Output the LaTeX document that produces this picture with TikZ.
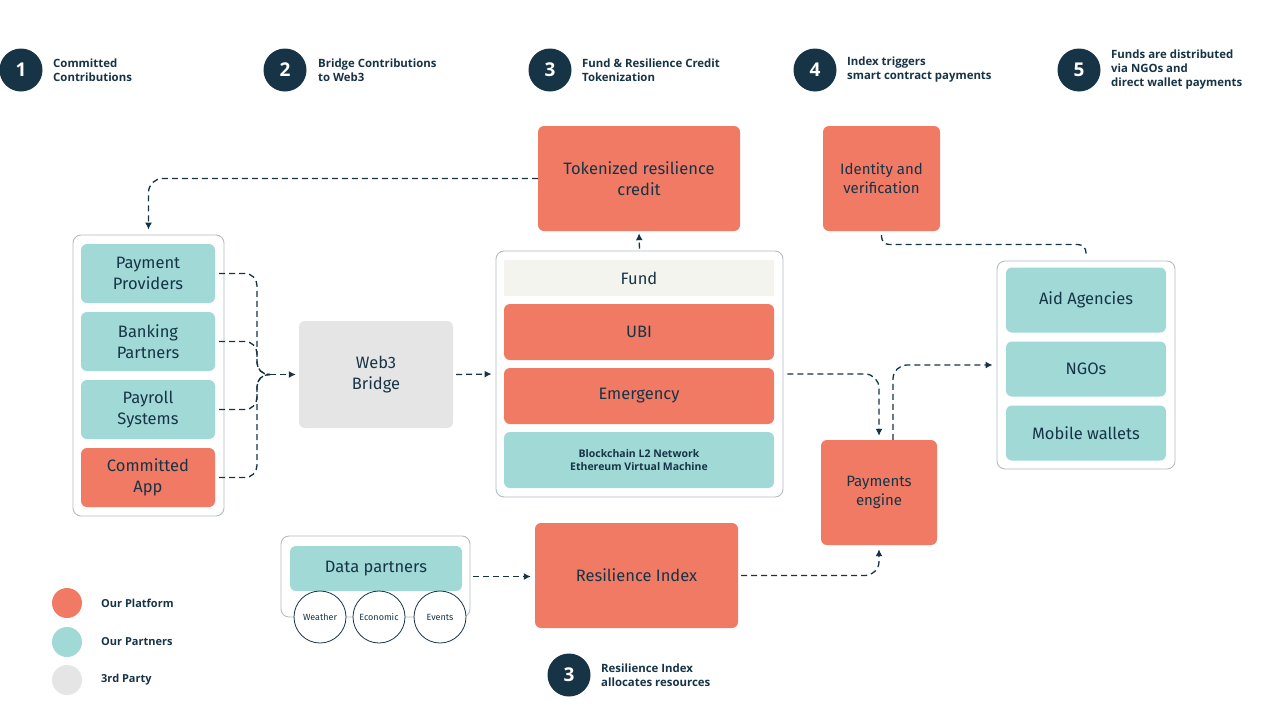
\documentclass[tikz,border=0pt]{standalone}
\usepackage{fontspec}
\setmainfont{Open Sans}
\newfontfamily\boxfont{Fira Sans}
\usetikzlibrary{arrows.meta}
\definecolor{navy}{HTML}{173447}
\definecolor{platformc}{HTML}{F07A64}
\definecolor{partnerc}{HTML}{A0D9D6}
\definecolor{thirdc}{HTML}{E5E5E5}
\definecolor{fundc}{HTML}{F4F4EF}
\definecolor{framec}{HTML}{B4BCC1}
\tikzset{
  box/.style={rounded corners=6pt, inner sep=0pt, align=center, text=navy,
    font=\boxfont\fontsize{16.5}{21}\selectfont},
  platform/.style={box, fill=platformc},
  partner/.style={box, fill=partnerc},
  third/.style={box, fill=thirdc},
  frame/.style={draw=framec, line width=0.9pt, rounded corners=8pt, inner sep=0pt, fill=white},
  stepnum/.style={circle, fill=navy, text=white, minimum size=43pt, inner sep=0pt,
    font=\bfseries\fontsize{19}{19}\selectfont},
  steptext/.style={anchor=west, align=left, inner sep=0pt, text=navy,
    font=\bfseries\fontsize{11.4}{14}\selectfont},
  source/.style={circle, draw=navy, line width=0.8pt, fill=white, minimum size=52pt,
    inner sep=0pt, text=navy, font=\boxfont\fontsize{9}{9}\selectfont},
  dot/.style={circle, minimum size=30pt, inner sep=0pt},
  legend/.style={anchor=west, inner sep=0pt, text=navy, font=\bfseries\fontsize{11}{11}\selectfont},
  dashline/.style={draw=navy, line width=1.3pt, dash pattern=on 6pt off 4pt},
  flow/.style={dashline, -{Latex[length=7pt,width=7pt]}}
}
\begin{document}
\begin{tikzpicture}[x=1pt,y=-1pt]
\useasboundingbox[fill=white] (0,0) rectangle (1280,721);

% steps along the top
\node[stepnum] (s1) at (21,70) {1};
\node[steptext] (t1) at (53,70) {Committed\\Contributions};
\node[stepnum] (s2) at (285,70) {2};
\node[steptext] (t2) at (318,70) {Bridge Contributions\\to Web3};
\node[stepnum] (s3) at (550,70) {3};
\node[steptext] (t3) at (582,70) {Fund \& Resilience Credit\\Tokenization};
\node[stepnum] (s4) at (815,70) {4};
\node[steptext] (t4) at (847,70) {Index triggers\\smart contract payments};
\node[stepnum] (s5) at (1079,70) {5};
\node[steptext] (t5) at (1111,70) {Funds are distributed\\via NGOs and\\direct wallet payments};
\node[stepnum] (s6) at (569,675) {3};
\node[steptext] (t6) at (601,675) {Resilience Index\\allocates resources};

% contributions
\node[frame, minimum width=151pt, minimum height=281pt] (partners) at (148.5,375.5) {};
\node[partner, minimum width=134pt, minimum height=59pt] (pp) at (148,273.5) {Payment\\Providers};
\node[partner, minimum width=134pt, minimum height=59pt] (bp) at (148,341.5) {Banking\\Partners};
\node[partner, minimum width=134pt, minimum height=59pt] (ps) at (148,409.5) {Payroll\\Systems};
\node[platform, minimum width=134pt, minimum height=59pt] (ca) at (148,477.5) {Committed\\App};

\node[third, minimum width=154pt, minimum height=107pt] (web3) at (376,374.5) {Web3\\Bridge};

% fund
\node[frame, minimum width=287pt, minimum height=246pt] (fundbox) at (639.5,374) {};
\node[box, rounded corners=0pt, fill=fundc, minimum width=270pt, minimum height=36pt] (fund) at (639,278) {Fund};
\node[platform, minimum width=270pt, minimum height=56pt] (ubi) at (639,332) {UBI};
\node[platform, minimum width=270pt, minimum height=56pt] (emer) at (639,396) {Emergency};
\node[partner, minimum width=270pt, minimum height=56pt,
  font=\bfseries\fontsize{10.5}{13}\selectfont] (chain) at (639,460) {Blockchain L2 Network\\Ethereum Virtual Machine};

\node[platform, minimum width=202pt, minimum height=105pt] (token) at (639,178.5) {Tokenized resilience\\credit};
\node[platform, minimum width=117pt, minimum height=105pt,
  font=\boxfont\fontsize{15}{19}\selectfont] (ident) at (881.5,178.5) {Identity and\\verification};
\node[platform, minimum width=116pt, minimum height=105pt,
  font=\boxfont\fontsize{15}{19}\selectfont] (pay) at (879,492.5) {Payments\\engine};

% recipients
\node[frame, minimum width=178pt, minimum height=208pt] (aidbox) at (1086,365) {};
\node[partner, minimum width=160pt, minimum height=65pt] (aid) at (1086,300) {Aid Agencies};
\node[partner, minimum width=160pt, minimum height=55pt] (ngo) at (1086,369) {NGOs};
\node[partner, minimum width=160pt, minimum height=55pt] (wallet) at (1086,433) {Mobile wallets};

% data
\node[frame, minimum width=189pt, minimum height=81pt] (dbox) at (375.5,576.5) {};
\node[partner, minimum width=172pt, minimum height=45pt] (dp) at (376,568.5) {Data partners};
\node[source] (weather) at (320,617) {Weather};
\node[source] (econ) at (379,617) {Economic};
\node[source] (events) at (440,617) {Events};
\node[platform, minimum width=203pt, minimum height=105pt] (ri) at (636.5,575.5) {Resilience Index};

% legend
\node[dot, fill=platformc] (l1) at (67,603) {};
\node[legend] at (101,603) {Our Platform};
\node[dot, fill=partnerc] (l2) at (67,642) {};
\node[legend] at (101,642) {Our Partners};
\node[dot, fill=thirdc] (l3) at (67,680) {};
\node[legend] at (101,680) {3rd Party};

% connectors
\coordinate (join) at (270,374.5);
\draw[dashline, rounded corners=12pt] ([xshift=4pt]pp.east) -| ([xshift=-13pt]join) -- (join);
\draw[dashline, rounded corners=12pt] ([xshift=4pt]bp.east) -| ([xshift=-13pt]join) -- (join);
\draw[dashline, rounded corners=12pt] ([xshift=4pt]ps.east) -| ([xshift=-13pt]join) -- (join);
\draw[dashline, rounded corners=12pt] ([xshift=4pt]ca.east) -| ([xshift=-13pt]join) -- (join);
\draw[flow, shorten >=3pt] (join) -- (web3.west);
\draw[flow, shorten <=3pt, shorten >=4pt] (web3.east) -- (fundbox.west);
\draw[flow, shorten >=5pt, rounded corners=14pt] (token.west) -| (partners.north);
\draw[flow, shorten <=2pt, shorten >=2pt] (fundbox.north) -- (token.south);
\draw[flow, shorten >=4pt, rounded corners=14pt] ([xshift=4pt]fundbox.east) -| (pay.north);
\draw[flow, shorten >=4pt, rounded corners=14pt] ([xshift=14pt]pay.north) |- (aidbox.west);
\draw[dashline, rounded corners=8pt] ([yshift=-4pt]ident.south) |- ([yshift=16pt]aidbox.north) -- ([yshift=3pt]aidbox.north);
\draw[flow, shorten <=3pt, shorten >=4pt] (dbox.east) -- (dbox.east -| ri.west);
\draw[flow, shorten <=3pt, shorten >=4pt, rounded corners=14pt] (ri.east) -| (pay.south);
\end{tikzpicture}
\end{document}
